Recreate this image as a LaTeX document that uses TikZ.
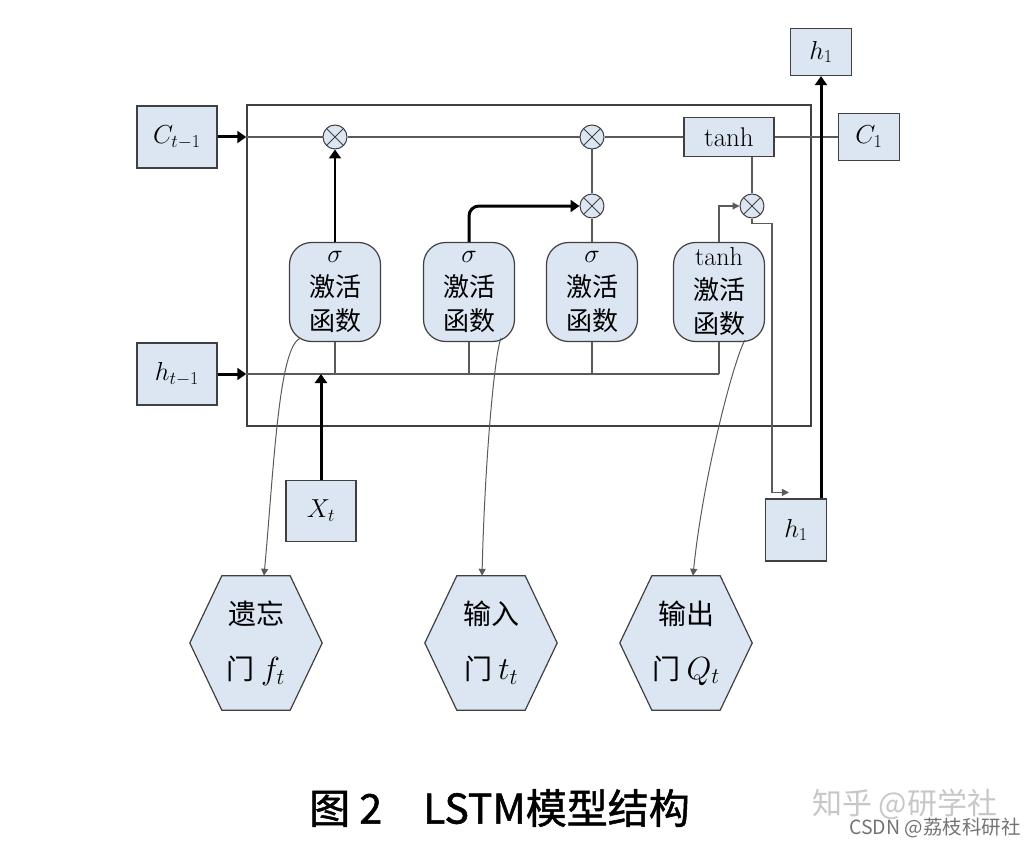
\RequirePackage{fix-cm}
\documentclass[tikz,border=0pt]{standalone}
\usepackage{fontspec}
\newfontfamily\cjk{Noto Sans CJK SC}
\newfontfamily\cjkcap[FakeBold = 1.2]{Noto Sans CJK SC}
\usetikzlibrary{arrows.meta,backgrounds}
\definecolor{boxfill}{HTML}{DCE6F2}
\definecolor{boxline}{HTML}{404040}
\definecolor{wire}{HTML}{5A5A5A}
\newcommand\gatemath[1]{{\fontsize{32}{55}\selectfont$#1$}}

\begin{document}
\begin{tikzpicture}[x = 1pt, y = 1pt,
    box/.style = {draw = boxline, fill = boxfill, line width = 1.2pt, inner sep = 0pt, font = \fontsize{26}{30}\selectfont},
    act/.style = {box, rounded corners = 22pt, minimum width = 91pt, minimum height = 99pt, align = center, font = \fontsize{26}{34}\selectfont\cjk},
    mult/.style = {circle, draw = boxline, fill = boxfill, line width = 1pt, minimum size = 24pt, inner sep = 0pt,
        path picture = {\draw[boxline, line width = 1pt] (path picture bounding box.north west) -- (path picture bounding box.south east)
            (path picture bounding box.north east) -- (path picture bounding box.south west);}},
    gate/.style = {minimum width = 132pt, minimum height = 134pt, inner sep = 0pt, align = center, font = \fontsize{28}{55}\selectfont\cjk},
    wireline/.style = {draw = wire, line width = 1.2pt},
    heavy/.style = {draw = black, line width = 3pt},
    bigtip/.style = {-{Triangle[width = 12pt, length = 9pt]}},
    smalltip/.style = {-{Triangle[width = 7pt, length = 7pt]}}]
    \useasboundingbox (0, 0) rectangle (1034, -848);
    \node[draw = boxline, line width = 1.5pt, minimum width = 564pt, minimum height = 321pt] (cell) at (529, -265.5) {};
    \node[box, minimum width = 80pt, minimum height = 62pt] (ct1) at (177, -137) {$C_{t-1}$};
    \node[box, minimum width = 80pt, minimum height = 62pt] (ht1) at (177, -374) {$h_{t-1}$};
    \node[box, minimum width = 70pt, minimum height = 61pt] (xt) at (321, -511) {$X_t$};
    \node[box, minimum width = 61pt, minimum height = 62pt] (h1b) at (796, -530) {$h_1$};
    \node[box, minimum width = 61pt, minimum height = 47pt] (h1t) at (821, -52) {$h_1$};
    \node[box, minimum width = 61pt, minimum height = 47pt] (c1) at (869, -137) {$C_1$};
    \node[box, minimum width = 90pt, minimum height = 39pt, font = \fontsize{27}{30}\selectfont] (th) at (729, -137) {tanh};
    \node[mult] (m1) at (335, -137) {};
    \node[mult] (m2) at (592, -137) {};
    \node[mult] (m3) at (592, -206) {};
    \node[mult] (m4) at (752, -206) {};
    \node[act] (act1) at (335, -292) {$\sigma$\\激活\\函数};
    \node[act] (act2) at (469, -292) {$\sigma$\\激活\\函数};
    \node[act] (act3) at (592, -292) {$\sigma$\\激活\\函数};
    \node[act] (act4) at (719, -292) {$\mathrm{tanh}$\\激活\\函数};
    \node[gate] (forget) at (256, -643) {遗忘\\门 \gatemath{f_t}};
    \node[gate] (input) at (491, -643) {输入\\门 \gatemath{t_t}};
    \node[gate] (output) at (686, -643) {输出\\门 \gatemath{Q_t}};
    \begin{scope}[on background layer]
        \foreach \g in {forget, input, output}
            \filldraw[draw = boxline, fill = boxfill, line width = 1.2pt] (\g.west) -- ([xshift = 32pt]\g.north west)
                -- ([xshift = -32pt]\g.north east) -- (\g.east) -- ([xshift = -32pt]\g.south east) -- ([xshift = 32pt]\g.south west) -- cycle;
    \end{scope}
    \draw[heavy, bigtip] (ct1) -- (ct1 -| cell.west);
    \draw[wireline] (ct1 -| cell.west) -- (m1) -- (m2) -- (th) -- (c1);
    \draw[heavy, bigtip] (ht1) -- (ht1 -| cell.west);
    \draw[wireline] (ht1 -| cell.west) -- (act4.south |- ht1);
    \foreach \a in {act1, act2, act3, act4}
        \draw[wireline] (\a.south) -- (\a.south |- ht1);
    \draw[heavy, bigtip] (xt.north) -- (xt.north |- ht1);
    \draw[heavy, line width = 2.5pt, bigtip] (act1) -- (m1);
    \draw[heavy, bigtip, rounded corners = 10pt] (act2.north) |- (m3.west);
    \draw[wireline] (act3) -- (m3) -- (m2);
    \draw[wireline] (m4.north |- th.south) -- (m4);
    \draw[wireline, smalltip] (act4.north) |- (m4.west);
    \draw[wireline, smalltip] (m4.south) -- ++(0, -5) -| ([shift = {(7, 6)}]h1b.north west) -- ([shift = {(24, 6)}]h1b.north west);
    \draw[heavy, bigtip] (h1t.south |- h1b.north) -- (h1t.south);
    \draw[wireline, line width = 1pt, smalltip] ([shift = {(12, 4)}]act1.south west) .. controls +(-22, -6) and +(10, 110) .. ([xshift = 8]forget.north);
    \draw[wireline, line width = 1pt, smalltip] ([shift = {(-14, 4)}]act2.south east) .. controls +(-6, -12) and +(3, 120) .. ([xshift = -9]input.north);
    \draw[wireline, line width = 1pt, smalltip] ([shift = {(-20, 2)}]act4.south east) .. controls +(-10, -15) and +(10, 100) .. ([xshift = 7]output.north);
    \node[anchor = west, inner sep = 0pt, font = \fontsize{41}{42}\selectfont\cjkcap] (caption) at (309, -808) {图 2\hspace{1em}LSTM模型结构};
    \node[anchor = west, inner sep = 0pt, text = black!22, font = \fontsize{30}{30}\selectfont\cjk] (zhihu) at (812, -804) {知乎 @研学社};
    \node[anchor = east, inner sep = 0pt, text = black!55, font = \fontsize{19.5}{20}\selectfont\cjk] (csdn) at (1021, -828) {CSDN @荔枝科研社};
\end{tikzpicture}
\end{document}
